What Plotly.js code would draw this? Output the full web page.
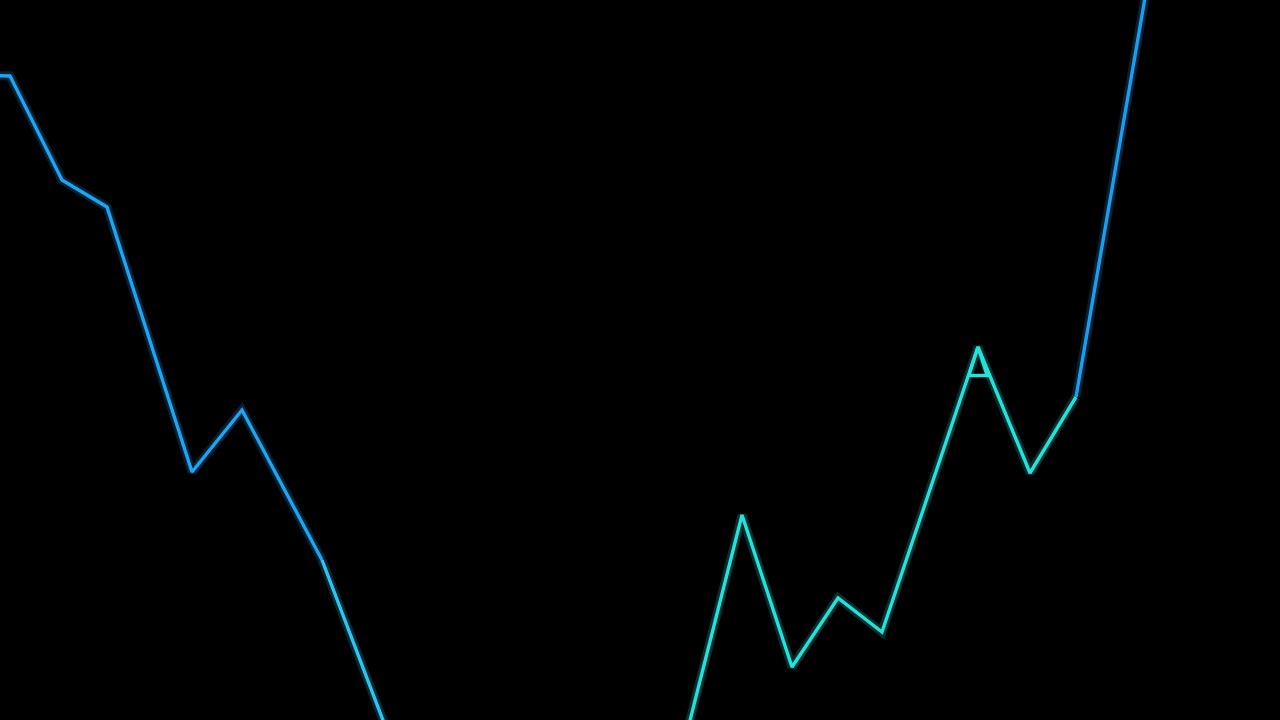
<!DOCTYPE html>
<html>
<head>
<meta charset="utf-8">
<script src="https://cdn.plot.ly/plotly-3.0.1.min.js"></script>
<style>html,body{margin:0;padding:0;background:#000;}#chart{width:1280px;height:720px;}</style>
</head>
<body>
<div id="chart"></div>
<script>
// Data (x position, value), including points beyond the visible frame
const xs = [-30, 10, 62, 107, 192, 242, 322, 400, 540, 680, 742, 792, 838, 882, 978, 1030, 1076, 1155];
const ys = [645, 644, 540, 513, 248, 310, 160, -45, -110, -40, 205, 53, 122, 88, 373, 247, 323, 780];
const peakIndex = 14;

// segment groups (index ranges) and their colours
const groups = [
  {from: 0, to: 6, color: '#1aa6f5'},
  {from: 6, to: 8, color: '#2cc4f0'},
  {from: 8, to: 16, color: '#22e2dc'},
  {from: 16, to: 17, color: '#1a9ff0'}
];

const traces = [];
groups.forEach(g => {
  const gx = xs.slice(g.from, g.to + 1), gy = ys.slice(g.from, g.to + 1);
  traces.push({x: gx, y: gy, mode: 'lines', line: {color: g.color, width: 9}, opacity: 0.2, hoverinfo: 'skip', showlegend: false});
  traces.push({x: gx, y: gy, mode: 'lines', line: {color: g.color, width: 3.4}, showlegend: false});
});
traces.push({x: [xs[peakIndex]], y: [ys[peakIndex]], mode: 'markers',
  marker: {symbol: 'arrow-open', size: 30, color: '#22e2dc', line: {color: '#22e2dc', width: 3.5}}, showlegend: false});

const layout = {
  width: 1280, height: 720,
  margin: {l: 0, r: 0, t: 0, b: 0},
  paper_bgcolor: '#000', plot_bgcolor: '#000',
  xaxis: {range: [0, 1280], visible: false, fixedrange: true},
  yaxis: {range: [0, 720], visible: false, fixedrange: true},
  showlegend: false
};
Plotly.newPlot('chart', traces, layout, {displayModeBar: false, staticPlot: true});
</script>
</body>
</html>
